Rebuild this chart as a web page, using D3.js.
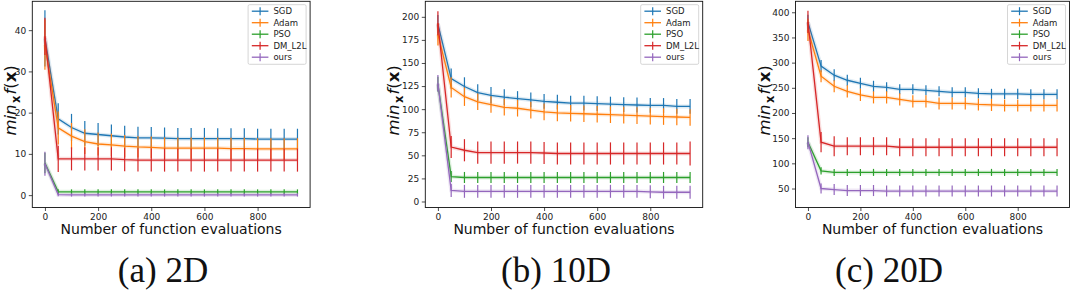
<!DOCTYPE html>
<html>
<head>
<meta charset="utf-8">
<script src="https://cdn.jsdelivr.net/npm/d3@7"></script>
<style>
  body { margin: 0; background: #fff; }
  svg { display: block; }
  .tick text { font-family: "DejaVu Sans", sans-serif; font-size: 9px; fill: #222; }
</style>
</head>
<body>
<svg id="fig" width="1075" height="293"></svg>
<script>
// data
const evals = [0, 50, 100, 150, 200, 250, 300, 350, 400, 450, 500, 550, 600, 650, 700, 750, 800, 850, 900, 950];
const methods = ["SGD", "Adam", "PSO", "DM_L2L", "ours"];
const colors = ["#1f77b4", "#ff7f0e", "#2ca02c", "#d62728", "#9467bd"];
const captions = ["(a) 2D", "(b) 10D", "(c) 20D"];

// 2D
const sgd2d  = [38.0, 18.5, 16.4, 15.0, 14.7, 14.4, 14.1, 13.9, 13.9, 13.8, 13.7, 13.7, 13.7, 13.7, 13.7, 13.7, 13.6, 13.6, 13.6, 13.6];
const adam2d = [36.5, 16.3, 14.3, 13.0, 12.4, 12.2, 11.9, 11.7, 11.6, 11.4, 11.4, 11.4, 11.4, 11.4, 11.3, 11.3, 11.2, 11.2, 11.2, 11.2];
const pso2d  = [7.8, 0.8, 0.8, 0.8, 0.8, 0.8, 0.8, 0.8, 0.8, 0.8, 0.8, 0.8, 0.8, 0.8, 0.8, 0.8, 0.8, 0.8, 0.8, 0.8];
const dm2d   = [38.5, 8.8, 8.8, 8.8, 8.8, 8.8, 8.6, 8.5, 8.5, 8.5, 8.5, 8.5, 8.5, 8.5, 8.5, 8.5, 8.5, 8.5, 8.5, 8.5];
const ours2d = [7.6, 0.1, 0.05, 0.05, 0.05, 0.05, 0.05, 0.05, 0.05, 0.05, 0.05, 0.05, 0.05, 0.05, 0.05, 0.05, 0.05, 0.05, 0.05, 0.05];
const sgd2dErr  = [6.8, 3.8, 3.3, 3.0, 2.8, 2.7, 2.7, 2.7, 2.6, 2.6, 2.6, 2.6, 2.6, 2.5, 2.5, 2.5, 2.5, 2.5, 2.5, 2.5];
const adam2dErr = [6.1, 4.0, 3.2, 3.0, 2.8, 2.7, 2.7, 2.6, 2.6, 2.6, 2.6, 2.6, 2.6, 2.6, 2.6, 2.6, 2.6, 2.6, 2.6, 2.6];
const pso2dErr  = [2.5, 0.6, 0.6, 0.6, 0.6, 0.6, 0.6, 0.6, 0.6, 0.6, 0.6, 0.6, 0.6, 0.6, 0.6, 0.6, 0.6, 0.6, 0.6, 0.6];
const dm2dErr   = [4.5, 3.2, 2.8, 2.8, 2.8, 2.8, 2.8, 2.8, 2.8, 2.8, 2.8, 2.8, 2.8, 2.8, 2.8, 2.8, 2.8, 2.8, 2.8, 2.8];
const ours2dErr = [2.9, 0.4, 0.4, 0.4, 0.4, 0.4, 0.4, 0.4, 0.4, 0.4, 0.4, 0.4, 0.4, 0.4, 0.4, 0.4, 0.4, 0.4, 0.4, 0.4];

// 10D
const sgd10d  = [192, 133, 124.5, 118, 115, 113, 111.5, 110, 108.5, 107.5, 106.5, 106.5, 106, 105.5, 105, 104.5, 104, 104, 103, 103];
const adam10d = [181, 123.5, 113.5, 108, 105, 102, 101, 99, 97, 96, 95.5, 95, 94.5, 94, 93.5, 93, 92.5, 92, 91.5, 91];
const pso10d  = [127, 27, 26, 26, 26, 26, 26, 26, 26, 26, 26, 26, 26, 26, 26, 26, 26, 26, 26, 26];
const dm10d   = [193, 59, 55.5, 53, 53, 53, 53, 53, 52.5, 52, 52, 52, 52, 52, 52, 52, 52, 52, 52, 52];
const ours10d = [128, 12, 11, 11, 11, 11, 11, 11, 11, 11, 11, 11, 11, 11, 11, 11, 10.5, 10, 10, 10];
const sgd10dErr  = [10, 11, 10, 9, 9, 8.5, 8, 8, 8, 8, 8, 8, 8, 8, 8, 8, 8, 8, 8, 8];
const adam10dErr = [12, 11, 10, 9, 9, 9, 9, 9, 9, 9, 9, 9, 9, 9, 9, 9, 9, 9, 9, 9];
const pso10dErr  = [8, 6, 6, 6, 6, 6, 6, 6, 6, 6, 6, 6, 6, 6, 6, 6, 6, 6, 6, 6];
const dm10dErr   = [13, 12, 12, 12, 12, 12, 12, 12, 12, 12, 12, 12, 12, 12, 12, 12, 12, 12, 12, 13];
const ours10dErr = [9, 7, 7, 7, 7, 7, 7, 7, 7, 7, 7, 7, 7, 7, 7, 7, 7, 7, 7, 7];

// 20D
const sgd20d  = [380, 293, 275, 265, 259, 253, 251, 247, 247, 245, 243, 241, 241, 239, 238, 238, 238, 237, 237, 237];
const adam20d = [365, 273, 253, 243, 236, 231, 231, 227, 223, 223, 219, 219, 219, 217, 216, 215, 215, 215, 215, 215];
const pso20d  = [142, 85, 82, 82, 82, 82, 82, 82, 82, 82, 82, 82, 82, 82, 82, 82, 82, 82, 82, 82];
const dm20d   = [381, 142, 134, 134, 134, 134, 134, 132, 132, 132, 132, 132, 132, 132, 132, 132, 132, 132, 132, 132];
const ours20d = [142, 50, 48, 46, 46, 46, 45, 45, 45, 45, 45, 45, 45, 45, 45, 45, 45, 45, 45, 45];
const sgd20dErr  = [15, 12, 12, 11, 11, 11, 10, 10, 10, 10, 10, 10, 10, 10, 10, 10, 10, 10, 10, 10];
const adam20dErr = [22, 12, 12, 12, 12, 12, 12, 12, 12, 12, 12, 12, 12, 12, 12, 12, 12, 12, 12, 12];
const pso20dErr  = [10, 7, 7, 7, 7, 7, 7, 7, 7, 7, 7, 7, 7, 7, 7, 7, 7, 7, 7, 7];
const dm20dErr   = [22, 20, 20, 18, 18, 18, 18, 18, 18, 18, 18, 18, 18, 18, 18, 18, 18, 18, 18, 18];
const ours20dErr = [14, 10, 11, 11, 11, 11, 11, 11, 11, 11, 11, 11, 11, 11, 11, 11, 11, 11, 11, 11];

const xTicks = [0, 200, 400, 600, 800];
const yTicks2d = [0, 10, 20, 30, 40];
const yTicks10d = [0, 25, 50, 75, 100, 125, 150, 175, 200];
const yTicks20d = [50, 100, 150, 200, 250, 300, 350, 400];

// panel layout (pixels) and axis limits
const panels = [
  {left: 32.3, right: 310.1, yDom: [-3.0, 47.0], yTicks: yTicks2d, ylabX: 10, capX: 163,
   means: [sgd2d, adam2d, pso2d, dm2d, ours2d], errs: [sgd2dErr, adam2dErr, pso2dErr, dm2dErr, ours2dErr]},
  {left: 425.3, right: 702.7, yDom: [-6.5, 216.8], yTicks: yTicks10d, ylabX: 393, capX: 556,
   means: [sgd10d, adam10d, pso10d, dm10d, ours10d], errs: [sgd10dErr, adam10dErr, pso10dErr, dm10dErr, ours10dErr]},
  {left: 795.5, right: 1069.5, yDom: [12.3, 421.8], yTicks: yTicks20d, ylabX: 764, capX: 889,
   means: [sgd20d, adam20d, pso20d, dm20d, ours20d], errs: [sgd20dErr, adam20dErr, pso20dErr, dm20dErr, ours20dErr]}
];
const axTop = 1.3, axBottom = 207.5;
// draw order: SGD, Adam, PSO, DM_L2L, ours
const drawOrder = [0, 1, 2, 3, 4];

const svg = d3.select("#fig");

panels.forEach(function(p, pi) {
  const x = d3.scaleLinear().domain([-47.5, 997.5]).range([p.left, p.right]);
  const y = d3.scaleLinear().domain(p.yDom).range([axBottom, axTop]);
  const g = svg.append("g");

  // axes
  g.append("g")
    .attr("transform", `translate(0,${axBottom})`)
    .call(d3.axisBottom(x).tickValues(xTicks).tickSize(3.5).tickPadding(2.5).tickFormat(d3.format("d")))
    .call(a => a.select(".domain").remove());
  g.append("g")
    .attr("transform", `translate(${p.left},0)`)
    .call(d3.axisLeft(y).tickValues(p.yTicks).tickSize(3.5).tickPadding(2.5).tickFormat(d3.format("d")))
    .call(a => a.select(".domain").remove());
  g.selectAll(".tick line").attr("stroke", "#222").attr("stroke-width", 0.8);

  const line = d3.line().x((d, i) => x(evals[i])).y(d => y(d));

  drawOrder.forEach(function(k) {
    const m = p.means[k], e = p.errs[k];
    // faint halo band around the mean
    g.append("path")
      .datum(m)
      .attr("d", line)
      .attr("fill", "none")
      .attr("stroke", colors[k])
      .attr("stroke-opacity", 0.15)
      .attr("stroke-width", 4);
    g.append("path")
      .datum(m)
      .attr("d", line)
      .attr("fill", "none")
      .attr("stroke", colors[k])
      .attr("stroke-width", 1.3);
    g.selectAll(null)
      .data(m)
      .join("line")
      .attr("x1", (d, i) => x(evals[i]))
      .attr("x2", (d, i) => x(evals[i]))
      .attr("y1", (d, i) => y(d - e[i]))
      .attr("y2", (d, i) => y(d + e[i]))
      .attr("stroke", colors[k])
      .attr("stroke-width", 1.2);
  });

  // frame
  g.append("rect")
    .attr("x", p.left).attr("y", axTop)
    .attr("width", p.right - p.left).attr("height", axBottom - axTop)
    .attr("fill", "none").attr("stroke", "#111").attr("stroke-width", 0.9);

  // legend
  const lw = 58, lh = 59.6;
  const lx = p.right - 4 - lw, ly = axTop + 3.4;
  const leg = g.append("g").attr("transform", `translate(${lx},${ly})`);
  leg.append("rect")
    .attr("width", lw).attr("height", lh).attr("rx", 1.5)
    .attr("fill", "#fff").attr("fill-opacity", 0.8)
    .attr("stroke", "#ccc").attr("stroke-width", 0.8);
  methods.forEach(function(name, k) {
    const yy = 6.5 + k * 11.5;
    leg.append("line").attr("x1", 3.7).attr("x2", 20.3).attr("y1", yy).attr("y2", yy)
      .attr("stroke", colors[k]).attr("stroke-width", 1.3);
    leg.append("line").attr("x1", 12).attr("x2", 12).attr("y1", yy - 4).attr("y2", yy + 4)
      .attr("stroke", colors[k]).attr("stroke-width", 1.2);
    leg.append("text").attr("x", 25.3).attr("y", yy + 3)
      .attr("font-family", "DejaVu Sans, sans-serif").attr("font-size", 8.5).attr("fill", "#222")
      .text(name);
  });

  // x label
  g.append("text")
    .attr("x", (p.left + p.right) / 2).attr("y", 234)
    .attr("text-anchor", "middle")
    .attr("font-family", "DejaVu Sans, sans-serif").attr("font-size", 14).attr("fill", "#111")
    .text("Number of function evaluations");

  // y label: min_x f(x)
  const yl = g.append("text")
    .attr("transform", `translate(${p.ylabX + 6},${(axTop + axBottom) / 2 - 4}) rotate(-90)`)
    .attr("text-anchor", "middle")
    .attr("font-family", "DejaVu Sans, sans-serif").attr("font-size", 16.5).attr("fill", "#111");
  yl.append("tspan").attr("font-style", "italic").text("min");
  yl.append("tspan").attr("font-weight", "bold").attr("font-size", 11.5).attr("dx", 1.5).attr("dy", 3.5).text("x");
  yl.append("tspan").attr("font-style", "italic").attr("dx", 1).attr("dy", -3.5).text("f");
  yl.append("tspan").text("(");
  yl.append("tspan").attr("font-weight", "bold").text("x");
  yl.append("tspan").text(")");

  // caption
  svg.append("text")
    .attr("x", p.capX).attr("y", 282)
    .attr("text-anchor", "middle")
    .attr("font-family", "Liberation Serif, serif").attr("font-size", 35).attr("fill", "#111")
    .text(captions[pi]);
});
</script>
</body>
</html>
